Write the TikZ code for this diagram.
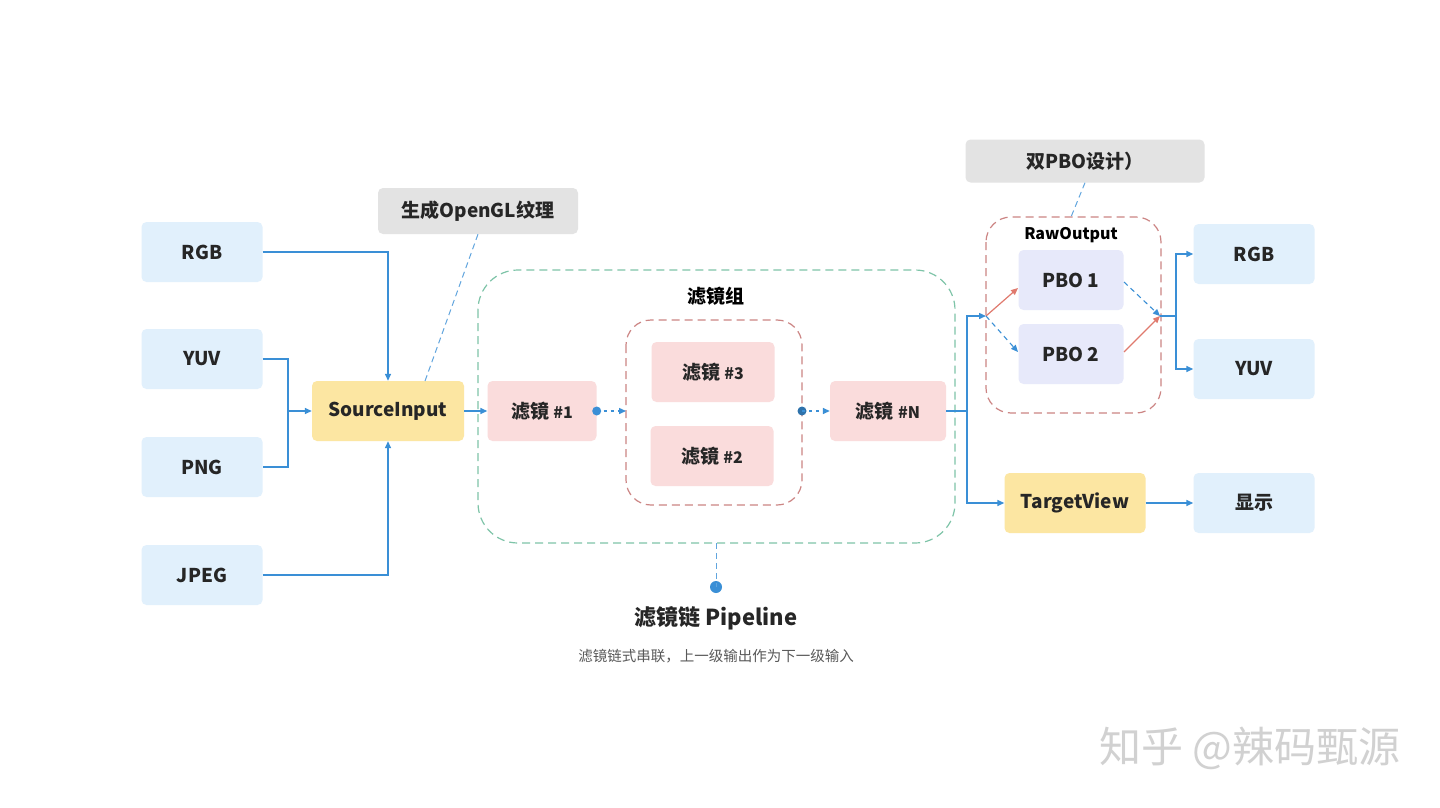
\documentclass[tikz,border=0pt]{standalone}
\usepackage{fontspec}
\setmainfont{Noto Sans CJK SC}
\usetikzlibrary{arrows.meta}
\definecolor{boxblue}{HTML}{E1F0FC}
\definecolor{boxyellow}{HTML}{FCE6A2}
\definecolor{boxpink}{HTML}{FADCDC}
\definecolor{boxlav}{HTML}{E7E9FA}
\definecolor{boxgray}{HTML}{E3E3E3}
\definecolor{lineblue}{HTML}{3A8FD6}
\definecolor{linered}{HTML}{E07A6E}
\definecolor{dashgreen}{HTML}{7EC4A8}
\definecolor{dashred}{HTML}{CC8584}
\tikzset{
  box/.style={rounded corners=5pt, inner sep=0pt, font=\bfseries\fontsize{19}{19}\selectfont, text=black!85},
  src/.style={box, fill=boxblue, minimum width=121pt, minimum height=60pt},
  flt/.style={box, fill=boxpink},
  note/.style={box, fill=boxgray},
  conn/.style={lineblue, line width=1.4pt, -{Triangle[length=7pt,width=6pt]}},
  dotconn/.style={lineblue, line width=1.4pt, dash pattern=on 3pt off 4pt, -{Triangle[length=7pt,width=6pt]}},
  redconn/.style={linered, line width=1.2pt, -{Triangle[length=7pt,width=6pt]}},
  lead/.style={lineblue!80, line width=1pt, dash pattern=on 6pt off 4pt},
}
\begin{document}
\begin{tikzpicture}[x=1pt, y=-1pt]
\useasboundingbox[fill=white] (0,0) rectangle (1440,808);

% groups
\draw[dashgreen, line width=1.2pt, dash pattern=on 8pt off 5pt, rounded corners=40pt] (478,270) rectangle (955,543);
\node[font=\bfseries\fontsize{19}{19}\selectfont] (grptitle) at (716,296) {滤镜组};
\draw[dashred, line width=1.2pt, dash pattern=on 8pt off 5pt, rounded corners=25pt] (626,320) rectangle (802,505);
\draw[dashred, line width=1.2pt, dash pattern=on 8pt off 5pt, rounded corners=25pt] (986,217) rectangle (1161,413);
\node[font=\bfseries\fontsize{16}{16}\selectfont] (rawtitle) at (1071,235) {RawOutput};

% inputs
\node[src] (inrgb) at (202,252) {RGB};
\node[src] (inyuv) at (202,359) {YUV};
\node[src] (inpng) at (202,467) {PNG};
\node[src] (injpeg) at (202,575) {JPEG};
\node[box, fill=boxyellow, minimum width=152pt, minimum height=60pt] (source) at (388,411) {SourceInput};
\node[note, minimum width=200pt, minimum height=46pt] (gltex) at (478,211) {生成OpenGL纹理};

% filters
\node[flt, minimum width=109pt, minimum height=60pt] (f1) at (542,411) {滤镜 {\fontsize{16}{16}\selectfont\#1}};
\node[flt, minimum width=123pt, minimum height=60pt] (f3) at (713,372) {滤镜 {\fontsize{16}{16}\selectfont\#3}};
\node[flt, minimum width=123pt, minimum height=60pt] (f2) at (712,456) {滤镜 {\fontsize{16}{16}\selectfont\#2}};
\node[flt, minimum width=116pt, minimum height=60pt] (fn) at (888,411) {滤镜 {\fontsize{16}{16}\selectfont\#N}};

% outputs
\node[box, fill=boxlav, minimum width=105pt, minimum height=60pt] (pbo1) at (1071,280) {PBO 1};
\node[box, fill=boxlav, minimum width=105pt, minimum height=60pt] (pbo2) at (1071,354) {PBO 2};
\node[note, minimum width=239pt, minimum height=43pt] (dualpbo) at (1085,161) {双PBO设计）};
\node[box, fill=boxyellow, minimum width=141pt, minimum height=60pt] (target) at (1075,503) {TargetView};
\node[src] (outrgb) at (1254,254) {RGB};
\node[src] (outyuv) at (1254,369) {YUV};
\node[src] (display) at (1254,503) {显示};

% pipeline label
\fill[lineblue] (716,587) circle (6pt);
\coordinate (pipedot) at (716,587);
\coordinate (grpbottom) at (716,543);
\node[font=\bfseries\fontsize{22}{22}\selectfont, text=black!85] (pipetitle) at (716,618) {滤镜链 Pipeline};
\node[font=\fontsize{14.5}{14.5}\selectfont, text=black!65] (pipesub) at (716,656) {滤镜链式串联，上一级输出作为下一级输入};
\node[font=\fontsize{42}{42}\selectfont, text=black!18] (mark) at (1250,748) {知乎 @辣码甄源};

% input connectors
\draw[conn] (inrgb.east) -- (388,252) -- (source.north);
\draw[conn] (injpeg.east) -- (388,575) -- (source.south);
\draw[lineblue, line width=1.4pt] (inyuv.east) -- (288,359) -- (288,467) -- (inpng.east);
\draw[conn] (288,411) -- (source.west);
\draw[conn] (source.east) -- (f1.west);
\draw[lead] (gltex.south) -- (425,381);

% filter chain
\fill[lineblue] (f1.east) circle (4.5pt);
\draw[dotconn] (f1.east) -- (626,411);
\fill[lineblue!80!black] (802,411) circle (4.5pt);
\draw[dotconn] (802,411) -- (fn.west);

% split to outputs
\coordinate (split) at (986,316);
\coordinate (merge) at (1160,316);
\draw[lineblue, line width=1.4pt] (fn.east) -- (967,411);
\draw[conn] (967,411) -- (967,316) -- (split);
\draw[conn] (967,411) -- (967,503) -- (target.west);
\draw[redconn] (split) -- (1018,288);
\draw[dotconn, dash pattern=on 5pt off 4pt, line width=1.1pt] (split) -- (1018,352);
\draw[dotconn, dash pattern=on 5pt off 4pt, line width=1.1pt] (1124,282) -- (merge);
\draw[redconn] (1124,352) -- (merge);
\draw[lineblue, line width=1.4pt] (merge) -- (1176,316);
\draw[conn] (1176,316) -- (1176,254) -- (outrgb.west);
\draw[conn] (1176,316) -- (1176,369) -- (outyuv.west);
\draw[conn] (target.east) -- (display.west);
\draw[lead] (dualpbo.south) -- (1071,217);
\draw[lead] (grpbottom) -- (pipedot);
\end{tikzpicture}
\end{document}
